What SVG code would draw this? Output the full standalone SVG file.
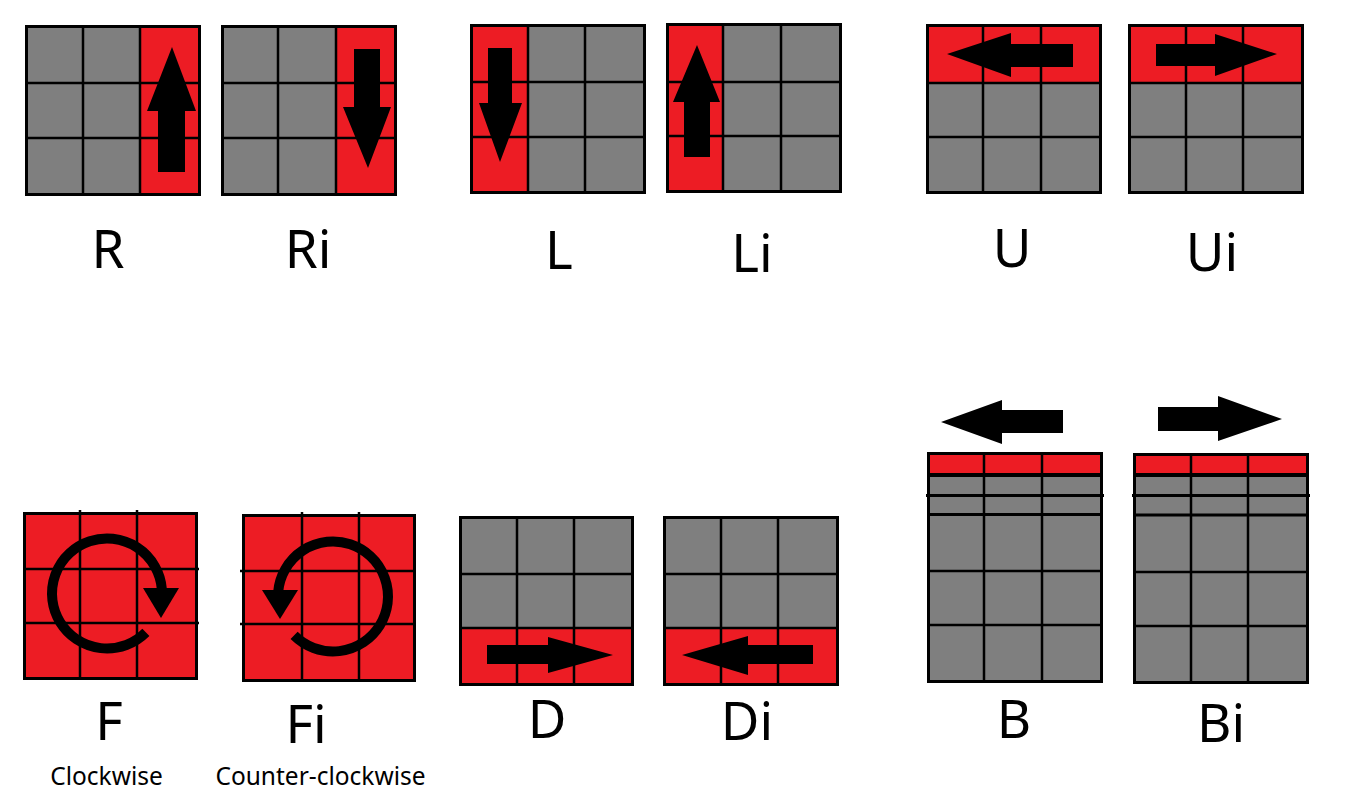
<svg xmlns="http://www.w3.org/2000/svg" width="1348" height="810" viewBox="0 0 1348 810">
<style>
.g{fill:#7f7f7f}
.r{fill:#ed1c24}
.bd{fill:none;stroke:#000;stroke-width:3}
.ln{stroke:#000;stroke-width:2.5;fill:none}
.lt{stroke:#000;stroke-width:3.2;fill:none}
.ar{fill:#000}
.arc{fill:none;stroke:#000;stroke-width:10;stroke-linecap:butt}
.lb{font-family:"Noto Sans","Open Sans","Liberation Sans",sans-serif;font-size:53px;fill:#000;text-anchor:middle}
.sm{font-family:"Noto Sans","Open Sans","Liberation Sans",sans-serif;font-size:24.5px;fill:#000;text-anchor:middle}
</style>
<rect width="1348" height="810" fill="#fff"/>

<g id="R">
<rect class="g" x="26.5" y="26.5" width="173" height="168"/>
<rect class="r" x="140" y="26.5" width="59.5" height="168"/>
<path class="ln" d="M83 26.5V194.5M140 26.5V194.5M26.5 83H199.5M26.5 138H199.5"/>
<rect class="bd" x="26.5" y="26.5" width="173" height="168"/>
<polygon class="ar" points="172,47 196,111 185,111 185,172 158,172 158,111 147,111"/>
<text class="lb" x="108" y="268">R</text>
</g>

<g id="Ri">
<rect class="g" x="222.5" y="26.5" width="173" height="168"/>
<rect class="r" x="336" y="26.5" width="59.5" height="168"/>
<path class="ln" d="M278 26.5V194.5M336 26.5V194.5M222.5 83H395.5M222.5 138H395.5"/>
<rect class="bd" x="222.5" y="26.5" width="173" height="168"/>
<polygon class="ar" points="354,49 380,49 380,107 391,107 368,168 343,107 354,107"/>
<text class="lb" x="308" y="268">Ri</text>
</g>

<g id="L">
<rect class="g" x="471.5" y="25.5" width="173" height="167"/>
<rect class="r" x="471.5" y="25.5" width="56.5" height="167"/>
<path class="ln" d="M528 25.5V192.5M585 25.5V192.5M471.5 82H644.5M471.5 137H644.5"/>
<rect class="bd" x="471.5" y="25.5" width="173" height="167"/>
<polygon class="ar" points="488,48 512,48 512,103 522,103 500,162 479,103 488,103"/>
<text class="lb" x="559" y="269">L</text>
</g>

<g id="Li">
<rect class="g" x="667.5" y="24.5" width="173" height="167"/>
<rect class="r" x="667.5" y="24.5" width="55.5" height="167"/>
<path class="ln" d="M723 24.5V191.5M781 24.5V191.5M667.5 82H840.5M667.5 136H840.5"/>
<rect class="bd" x="667.5" y="24.5" width="173" height="167"/>
<polygon class="ar" points="697,45 720,102 710,102 710,157 684,157 684,102 673,102"/>
<text class="lb" x="752" y="272">Li</text>
</g>

<g id="U">
<rect class="g" x="927.5" y="25.5" width="173" height="167"/>
<rect class="r" x="927.5" y="25.5" width="173" height="57.5"/>
<path class="ln" d="M983 25.5V192.5M1041 25.5V192.5M927.5 83H1100.5M927.5 137H1100.5"/>
<rect class="bd" x="927.5" y="25.5" width="173" height="167"/>
<polygon class="ar" points="947,54 1011,33 1011,44 1073,44 1073,67 1011,67 1011,77"/>
<text class="lb" x="1012" y="267">U</text>
</g>

<g id="Ui">
<rect class="g" x="1129.5" y="25.5" width="173" height="167"/>
<rect class="r" x="1129.5" y="25.5" width="173" height="57.5"/>
<path class="ln" d="M1186 25.5V192.5M1243 25.5V192.5M1129.5 83H1302.5M1129.5 137H1302.5"/>
<rect class="bd" x="1129.5" y="25.5" width="173" height="167"/>
<polygon class="ar" points="1156,44 1215,44 1215,34 1277,54 1215,76 1215,66 1156,66"/>
<text class="lb" x="1212" y="271">Ui</text>
</g>

<g id="F">
<rect class="r" x="24.5" y="513.5" width="172" height="165"/>
<path class="ln" d="M80 510V678.5M137 510V678.5M24.5 569H199M24.5 623H199"/>
<rect class="bd" x="24.5" y="513.5" width="172" height="165"/>
<path class="arc" d="M145.9 632.4A55 55 0 1 1 161.8 588.7"/>
<polygon class="ar" points="143,588 179,588 161,618"/>
<text class="lb" x="109" y="740">F</text>
<text class="sm" x="106.5" y="785">Clockwise</text>
</g>

<g id="Fi">
<rect class="r" x="243.5" y="515.5" width="171" height="165"/>
<path class="ln" d="M302 512V680.5M359 512V680.5M240 571H414.5M240 624H414.5"/>
<rect class="bd" x="243.5" y="515.5" width="171" height="165"/>
<path class="arc" d="M294.1 635.4A55 55 0 1 0 278.2 591.7"/>
<polygon class="ar" points="262,590 298,590 280,619"/>
<text class="lb" x="306" y="743">Fi</text>
<text class="sm" x="320.5" y="785">Counter-clockwise</text>
</g>

<g id="D">
<rect class="g" x="460.5" y="517.5" width="172" height="167"/>
<rect class="r" x="460.5" y="628" width="172" height="56.5"/>
<path class="ln" d="M517 517.5V684.5M574 517.5V684.5M460.5 574H632.5M460.5 628H632.5"/>
<rect class="bd" x="460.5" y="517.5" width="172" height="167"/>
<polygon class="ar" points="487,645 548,645 548,637 613,655 548,673 548,664 487,664"/>
<text class="lb" x="547" y="738">D</text>
</g>

<g id="Di">
<rect class="g" x="664.5" y="517.5" width="173" height="167"/>
<rect class="r" x="664.5" y="628" width="173" height="56.5"/>
<path class="ln" d="M721 517.5V684.5M778 517.5V684.5M664.5 574H837.5M664.5 628H837.5"/>
<rect class="bd" x="664.5" y="517.5" width="173" height="167"/>
<polygon class="ar" points="682,655 748,636 748,645 813,645 813,664 748,664 748,675"/>
<text class="lb" x="747" y="740">Di</text>
</g>

<g id="B">
<rect class="r" x="928.5" y="453.5" width="173" height="21"/>
<rect class="g" x="928.5" y="475.5" width="173" height="206"/>
<path class="ln" d="M984 453.5V681.5M1042 453.5V681.5M928.5 571H1101.5M928.5 625H1101.5"/>
<path class="lt" d="M926 495.5H1104M928.5 514.5H1101.5"/>
<rect class="bd" x="928.5" y="453.5" width="173" height="21"/>
<rect class="bd" x="928.5" y="475.5" width="173" height="206"/>
<polygon class="ar" points="941,422 1002,400 1002,410 1063,410 1063,433 1002,433 1002,444"/>
<text class="lb" x="1014" y="738">B</text>
</g>

<g id="Bi">
<rect class="r" x="1134.5" y="454.5" width="173" height="20"/>
<rect class="g" x="1134.5" y="475.5" width="173" height="207"/>
<path class="ln" d="M1191 454.5V682.5M1248 454.5V682.5M1134.5 572H1307.5M1134.5 626H1307.5"/>
<path class="lt" d="M1132 495.5H1310M1134.5 515H1307.5"/>
<rect class="bd" x="1134.5" y="454.5" width="173" height="20"/>
<rect class="bd" x="1134.5" y="475.5" width="173" height="207"/>
<polygon class="ar" points="1158,407 1218,407 1218,396 1282,419 1218,441 1218,431 1158,431"/>
<text class="lb" x="1221" y="742">Bi</text>
</g>
</svg>
